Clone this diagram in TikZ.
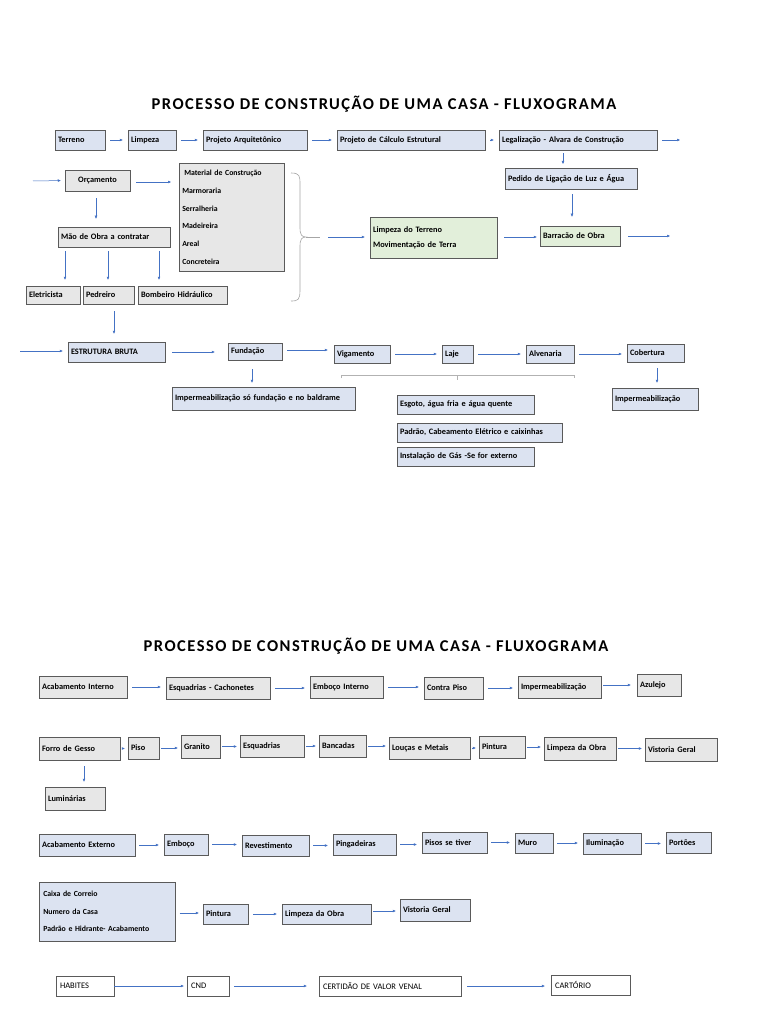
\documentclass[tikz,border=0pt]{standalone}
\usepackage{fontspec}
\setmainfont{Carlito}
\newfontfamily\titlefont[LetterSpace=9]{Carlito}
\usetikzlibrary{arrows.meta}
\definecolor{bl}{HTML}{DCE3F1}
\definecolor{gr}{HTML}{E7E7E7}
\definecolor{gn}{HTML}{E2EFDA}
\definecolor{ar}{HTML}{4472C4}
\definecolor{bd}{HTML}{5A5A5A}
\tikzset{
 bx/.style={draw=bd,line width=0.5pt,inner xsep=3pt,inner ysep=1pt,font=\fontsize{8.3}{10}\selectfont\bfseries,align=left},
 blue/.style={bx,fill=bl},
 grey/.style={bx,fill=gr},
 green/.style={bx,fill=gn},
 plain/.style={draw=bd,line width=0.4pt,fill=white,inner xsep=4pt,inner ysep=1pt,font=\fontsize{8.5}{10}\selectfont,align=left},
 arr/.style={draw=ar,line width=0.5pt,-{Triangle[length=3pt,width=2.5pt]}},
 ttl/.style={font=\titlefont\fontsize{16.5}{18}\selectfont\bfseries}
}
\newcommand\bx[7]{\node[#6,minimum width={#4-#2},minimum height={#5-#3},text width={#4-#2-6}] (#1) at ({(#2+#4)/2},{(#3+#5)/2}) {#7};}
\newcommand\harr[2]{\draw[arr,shorten <=5pt,shorten >=5pt] (#1.east) -- (#1.east -| #2.west);}
\begin{document}
\begin{tikzpicture}[x=1pt,y=-1pt]
\useasboundingbox[fill=white] (0,0) rectangle (768,1024);
\node[ttl] (t1) at (384,104) {PROCESSO DE CONSTRUÇÃO DE UMA CASA - FLUXOGRAMA};
\bx{ter}{55}{130}{105}{150}{blue}{Terreno}
\bx{lim}{128}{130}{176}{150}{blue}{Limpeza}
\bx{pa}{203}{130}{307}{150}{blue}{Projeto Arquitetônico}
\bx{pc}{337}{130}{485}{150}{blue}{Projeto de Cálculo Estrutural}
\bx{leg}{499}{130}{657}{150}{blue}{Legalização - Alvara de Construção}
\harr{ter}{lim}\harr{lim}{pa}\harr{pa}{pc}\harr{pc}{leg}
\coordinate (legout) at (680,140);
\draw[arr,shorten <=5pt] (leg.east) -- (legout);
\bx{ped}{505}{168}{637}{189}{blue}{Pedido de Ligação de Luz e Água}
\draw[arr,shorten <=3pt,shorten >=4pt] (leg.south -| 563,0) -- (563,168);
\coordinate (orin) at (33,181);
\bx{orc}{65}{170}{130}{191}{grey}{\hfil Orçamento}
\draw[arr,shorten >=4pt] (orin) -- (orc.west);
\node[grey,minimum width=105,minimum height=108,text width=99,anchor=north west,inner ysep=3pt,font=\fontsize{7.8}{17.8}\selectfont\bfseries] (mat) at (179,163)
 {\hspace*{2pt}Material de Construção\\Marmoraria\\Serralheria\\Madeireira\\Areal\\Concreteira};
\draw[arr,shorten <=6pt,shorten >=8pt] (orc.east |- 0,182) -- (mat.west |- 0,182);
\bx{mao}{58}{227}{170}{247}{grey}{Mão de Obra a contratar}
\draw[arr,shorten <=7pt,shorten >=8pt] (orc.south -| 96,0) -- (mao.north -| 96,0);
\bx{ele}{26}{286}{80}{304}{grey}{Eletricista}
\bx{pdr}{83}{286}{134}{304}{grey}{Pedreiro}
\bx{bom}{138}{286}{227}{304}{grey}{Bombeiro Hidráulico}
\draw[arr,shorten <=4pt,shorten >=6pt] (mao.south -| 65,0) -- (ele.north -| 65,0);
\draw[arr,shorten <=4pt,shorten >=6pt] (mao.south -| 108,0) -- (pdr.north -| 108,0);
\draw[arr,shorten <=4pt,shorten >=6pt] (mao.south -| 159,0) -- (bom.north -| 159,0);
\coordinate (br) at (306,237);
\draw[draw=gray!70,line width=0.6pt] (291,173) .. controls (300,173) and (300,176) .. (300,185) -- (300,228) .. controls (300,235) and (302,237) .. (br) .. controls (302,237) and (300,239) .. (300,246) -- (300,290) .. controls (300,300) and (298,301) .. (291,301);
\draw[draw=gray!70,line width=0.5pt] (br) -- (320,237);
\bx{lt}{370}{217}{497}{258}{green}{Limpeza do Terreno\\[5pt]Movimentação de Terra}
\coordinate (bro) at (328,237);
\draw[arr,shorten >=5pt] (bro) -- (lt.west |- bro);
\bx{bar}{540}{226}{620}{246}{green}{Barracão de Obra}
\draw[arr,shorten <=7pt,shorten >=3pt] (lt.east |- 0,237) -- (bar.west |- 0,237);
\draw[arr,shorten <=5pt,shorten >=9pt] (ped.south -| 572,0) -- (bar.north -| 572,0);
\coordinate (barout) at (670,236);
\draw[arr,shorten <=8pt] (bar.east |- barout) -- (barout);
\bx{eb}{68}{342}{165}{362}{blue}{ESTRUTURA BRUTA}
\draw[arr,shorten <=7pt,shorten >=8pt] (pdr.south -| 114,0) -- (eb.north -| 114,0);
\coordinate (ebin) at (20,351);
\draw[arr,shorten >=5pt] (ebin) -- (eb.west |- ebin);
\bx{fun}{228}{343}{282}{360}{blue}{Fundação}
\bx{vig}{334}{345}{390}{363}{blue}{Vigamento}
\bx{laj}{442}{345}{473}{363}{blue}{Laje}
\bx{alv}{526}{345}{574}{363}{blue}{Alvenaria}
\bx{cob}{627}{344}{684}{362}{blue}{Cobertura}
\draw[arr,shorten <=7pt,shorten >=13pt] (eb.east |- 0,352) -- (fun.west |- 0,352);
\draw[arr,shorten <=5pt,shorten >=6pt] (fun.east |- 0,350) -- (vig.west |- 0,350);
\harr{vig}{laj}\harr{laj}{alv}\harr{alv}{cob}
\draw[draw=gray!60,line width=0.6pt] (341,378) -- (341,375) -- (574,375) -- (574,378) (457,375) -- (457,380);
\bx{imf}{172}{387}{355}{410}{blue}{Impermeabilização só fundação e no baldrame}
\draw[arr,shorten <=9pt,shorten >=4pt] (fun.south -| 252,0) -- (imf.north -| 252,0);
\bx{esg}{397}{395}{534}{414}{blue}{Esgoto, água fria e água quente}
\bx{pad}{397}{423}{562}{442}{blue}{Padrão, Cabeamento Elétrico e caixinhas}
\bx{gas}{397}{447}{534}{466}{blue}{Instalação de Gás -Se for externo}
\bx{imc}{612}{388}{698}{410}{blue}{Impermeabilização}
\draw[arr,shorten <=6pt,shorten >=5pt] (cob.south -| 657,0) -- (imc.north -| 657,0);
\node[ttl] (t2) at (376,646) {PROCESSO DE CONSTRUÇÃO DE UMA CASA - FLUXOGRAMA};
\bx{ai}{39}{676}{127}{698}{grey}{Acabamento Interno}
\bx{ec}{166}{677}{270}{699}{grey}{Esquadrias - Cachonetes}
\bx{ei}{310}{676}{383}{698}{grey}{Emboço Interno}
\bx{cp}{424}{677}{483}{699}{grey}{Contra Piso}
\bx{imp}{518}{676}{601}{698}{grey}{Impermeabilização}
\bx{az}{637}{674}{681}{696}{grey}{Azulejo}
\harr{ai}{ec}\harr{ec}{ei}\harr{ei}{cp}\harr{cp}{imp}\draw[arr,shorten <=2pt,shorten >=6pt] (imp.east |- az) -- (az.west);
\bx{fg}{39}{737}{120}{760}{grey}{Forro de Gesso}
\bx{pi}{128}{737}{159}{759}{grey}{Piso}
\bx{gra}{181}{735}{220}{758}{grey}{Granito}
\bx{esq}{240}{735}{304}{757}{grey}{Esquadrias}
\bx{ban}{319}{735}{366}{757}{grey}{Bancadas}
\bx{lou}{389}{737}{470}{759}{grey}{Louças e Metais}
\bx{pin}{479}{736}{525}{758}{grey}{Pintura}
\bx{lo}{544}{737}{616}{760}{grey}{Limpeza da Obra}
\bx{vg}{645}{738}{717}{761}{grey}{Vistoria Geral}
\foreach \a/\b in {fg/pi,pi/gra,gra/esq,esq/ban,ban/lou,lou/pin,pin/lo,lo/vg}{\draw[arr,shorten <=2pt,shorten >=3pt] (\a.east) -- (\a.east -| \b.west);}
\bx{lum}{45}{787}{105}{810}{grey}{Luminárias}
\draw[arr,shorten <=6pt,shorten >=5pt] (fg.south -| 84,0) -- (lum.north -| 84,0);
\bx{ae}{39}{834}{135}{856}{blue}{Acabamento Externo}
\bx{em}{164}{834}{208}{855}{blue}{Emboço}
\bx{rev}{242}{835}{309}{856}{blue}{Revestimento}
\bx{pg}{333}{834}{396}{855}{blue}{Pingadeiras}
\bx{pst}{422}{832}{487}{853}{blue}{Pisos se tiver}
\bx{mu}{515}{833}{553}{853}{blue}{Muro}
\bx{il}{583}{833}{641}{854}{blue}{Iluminação}
\bx{po}{666}{832}{711}{853}{blue}{Portões}
\foreach \a/\b in {ae/em,em/rev,rev/pg,pg/pst,pst/mu,mu/il,il/po}{\draw[arr,shorten <=4pt,shorten >=5pt] (\a.east) -- (\a.east -| \b.west);}
\node[blue,minimum width=136,minimum height=59,text width=128,anchor=north west,inner ysep=3pt,font=\fontsize{7.8}{17.5}\selectfont\bfseries] (cx) at (39,882) {Caixa de Correio\\Numero da Casa\\Padrão e Hidrante- Acabamento};
\bx{pt2}{203}{904}{248}{924}{blue}{Pintura}
\bx{lo2}{282}{904}{371}{924}{blue}{Limpeza da Obra}
\bx{vg2}{400}{899}{470}{921}{blue}{Vistoria Geral}
\draw[arr,shorten <=4pt,shorten >=4pt] (cx.east |- 0,913) -- (pt2.west |- 0,913);
\harr{pt2}{lo2}
\draw[arr,shorten <=2pt,shorten >=4pt] (lo2.east |- 0,911) -- (vg2.west |- 0,911);
\bx{hab}{57}{976}{113}{996}{plain}{HABITES}
\bx{cnd}{188}{976}{228}{996}{plain}{CND}
\bx{cer}{320}{976}{460}{996}{plain}{CERTIDÃO DE VALOR VENAL}
\bx{car}{552}{975}{629}{995}{plain}{CARTÓRIO}
\draw[arr,shorten >=3pt] (hab.east) -- (hab.east -| cnd.west);
\draw[arr,shorten <=5pt,shorten >=12pt] (cnd.east) -- (cnd.east -| cer.west);
\draw[arr,shorten <=6pt,shorten >=6pt] (cer.east) -- (cer.east -| car.west);
\end{tikzpicture}
\end{document}
